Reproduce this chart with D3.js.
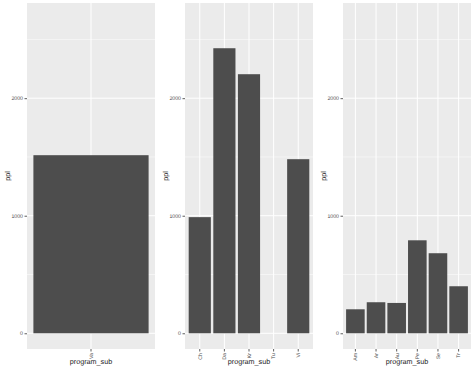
<!DOCTYPE html>
<html><head><meta charset="utf-8">
<script src="https://cdn.jsdelivr.net/npm/d3@7"></script>
<style>body{margin:0;background:#fff}svg{display:block}text{font-family:"Liberation Sans",Arial,sans-serif;-webkit-font-smoothing:antialiased;text-rendering:geometricPrecision}</style>
</head><body><svg id="c" width="474" height="371"></svg>
<script>
const cats1 = ["Va"];
const vals1 = [1515];
const cats2 = ["Ch","Da","Kr","Tu","Vi"];
const vals2 = [988, 2425, 2204, 0, 1481];
const cats3 = ["Am","Ar","Au","Pe","Se","Tr"];
const vals3 = [204, 264, 258, 791, 681, 400];
const yTicks = [0, 1000, 2000];
const yMinor = [500, 1500, 2500];
const yLimits = [0, 2676];
const yLabel = "ppl";
const xLabel = "program_sub";

(function(){
const panels = [
  {cats: cats1, vals: vals1},
  {cats: cats2, vals: vals2},
  {cats: cats3, vals: vals3}
];

const svg = d3.select("#c");
const pw = 158, pL = 27, pR = 155, pT = 3, pB = 349;
const ex = (yLimits[1]-yLimits[0])*0.05;
const y = d3.scaleLinear().domain([yLimits[0]-ex, yLimits[1]+ex]).range([pB, pT]);

panels.forEach((p, i) => {
  const g = svg.append("g").attr("transform", `translate(${i*pw},0)`);
  const outer = p.cats.length === 1 ? 0.05 : 0.15;
  const x = d3.scaleBand().domain(p.cats).range([pL, pR]).paddingInner(0.1).paddingOuter(outer);
  g.append("rect").attr("x", pL).attr("y", pT).attr("width", pR-pL).attr("height", pB-pT).attr("fill", "#EBEBEB");
  g.selectAll(".minor").data(yMinor).join("line")
    .attr("x1", pL).attr("x2", pR).attr("y1", d=>y(d)).attr("y2", d=>y(d))
    .attr("stroke", "#fff").attr("stroke-width", 0.5);
  g.selectAll(".major").data(yTicks).join("line")
    .attr("x1", pL).attr("x2", pR).attr("y1", d=>y(d)).attr("y2", d=>y(d))
    .attr("stroke", "#fff").attr("stroke-width", 1);
  g.selectAll(".vg").data(p.cats).join("line")
    .attr("x1", d=>x(d)+x.bandwidth()/2).attr("x2", d=>x(d)+x.bandwidth()/2)
    .attr("y1", pT).attr("y2", pB).attr("stroke", "#fff").attr("stroke-width", 1);
  g.selectAll(".bar").data(p.cats.map((c,j)=>({c, v:p.vals[j]}))).join("rect")
    .attr("x", d=>x(d.c)).attr("width", x.bandwidth())
    .attr("y", d=>y(d.v)).attr("height", d=>y(0)-y(d.v))
    .attr("fill", "#4D4D4D");
  const ya = g.append("g").attr("transform", `translate(${pL},0)`)
    .call(d3.axisLeft(y).tickValues(yTicks).tickSize(2.5).tickPadding(1.5).tickFormat(d3.format("d")));
  ya.select(".domain").remove();
  ya.selectAll("line").attr("stroke", "#333").attr("stroke-width", 0.8);
  ya.selectAll("text").attr("font-size", 5.2).attr("fill", "#4D4D4D");
  const xa = g.append("g").attr("transform", `translate(0,${pB})`)
    .call(d3.axisBottom(x).tickSize(2.5).tickPadding(1));
  xa.select(".domain").remove();
  xa.selectAll("line").attr("stroke", "#333").attr("stroke-width", 0.8);
  xa.selectAll("text").attr("font-size", 5.2).attr("fill", "#4D4D4D")
    .attr("transform", "rotate(-90)").attr("text-anchor", "end")
    .attr("x", -4).attr("y", 0).attr("dy", "0.35em");
  g.append("text").attr("x", (pL+pR)/2).attr("y", 364).attr("text-anchor", "middle")
    .attr("font-size", 7.2).attr("fill", "#222").text(xLabel);
  g.append("text").attr("transform", `translate(10,${(pT+pB)/2}) rotate(-90)`)
    .attr("text-anchor", "middle").attr("font-size", 7.2).attr("fill", "#222").text(yLabel);
});
})();
</script></body></html>
